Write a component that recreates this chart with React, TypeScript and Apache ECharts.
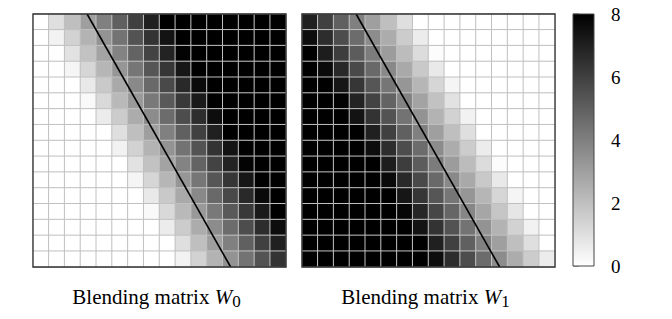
import React, { useEffect, useRef } from "react";
import * as echarts from "echarts";

const cols: string[] = Array.from({ length: 16 }, (_, i) => String(i));
const rows: string[] = Array.from({ length: 16 }, (_, i) => String(i));

const w0Rows: number[][] = [
  [0, 1, 2, 3, 4, 5, 6, 7, 8, 8, 8, 8, 8, 8, 8, 8],
  [0, 0.4, 1.4, 2.4, 3.4, 4.4, 5.4, 6.4, 7.4, 8, 8, 8, 8, 8, 8, 8],
  [0, 0, 0.9, 1.9, 2.9, 3.9, 4.9, 5.9, 6.9, 7.9, 8, 8, 8, 8, 8, 8],
  [0, 0, 0.3, 1.3, 2.3, 3.3, 4.3, 5.3, 6.3, 7.3, 8, 8, 8, 8, 8, 8],
  [0, 0, 0, 0.7, 1.7, 2.7, 3.7, 4.7, 5.7, 6.7, 7.7, 8, 8, 8, 8, 8],
  [0, 0, 0, 0.2, 1.2, 2.2, 3.2, 4.2, 5.2, 6.2, 7.2, 8, 8, 8, 8, 8],
  [0, 0, 0, 0, 0.6, 1.6, 2.6, 3.6, 4.6, 5.6, 6.6, 7.6, 8, 8, 8, 8],
  [0, 0, 0, 0, 0, 1.0, 2.0, 3.0, 4.0, 5.0, 6.0, 7.0, 8, 8, 8, 8],
  [0, 0, 0, 0, 0, 0.4, 1.4, 2.4, 3.4, 4.4, 5.4, 6.4, 7.4, 8, 8, 8],
  [0, 0, 0, 0, 0, 0, 0.9, 1.9, 2.9, 3.9, 4.9, 5.9, 6.9, 7.9, 8, 8],
  [0, 0, 0, 0, 0, 0, 0.3, 1.3, 2.3, 3.3, 4.3, 5.3, 6.3, 7.3, 8, 8],
  [0, 0, 0, 0, 0, 0, 0, 0.7, 1.7, 2.7, 3.7, 4.7, 5.7, 6.7, 7.7, 8],
  [0, 0, 0, 0, 0, 0, 0, 0.2, 1.2, 2.2, 3.2, 4.2, 5.2, 6.2, 7.2, 8],
  [0, 0, 0, 0, 0, 0, 0, 0, 0.6, 1.6, 2.6, 3.6, 4.6, 5.6, 6.6, 7.6],
  [0, 0, 0, 0, 0, 0, 0, 0, 0, 1.0, 2.0, 3.0, 4.0, 5.0, 6.0, 7.0],
  [0, 0, 0, 0, 0, 0, 0, 0, 0, 0.4, 1.4, 2.4, 3.4, 4.4, 5.4, 6.4],
];

const w1Rows: number[][] = [
  [7, 6, 5, 4, 3, 2, 1, 0, 0, 0, 0, 0, 0, 0, 0, 0],
  [7.6, 6.6, 5.6, 4.6, 3.6, 2.6, 1.6, 0.6, 0, 0, 0, 0, 0, 0, 0, 0],
  [8, 7.1, 6.1, 5.1, 4.1, 3.1, 2.1, 1.1, 0.1, 0, 0, 0, 0, 0, 0, 0],
  [8, 7.7, 6.7, 5.7, 4.7, 3.7, 2.7, 1.7, 0.7, 0, 0, 0, 0, 0, 0, 0],
  [8, 8, 7.3, 6.3, 5.3, 4.3, 3.3, 2.3, 1.3, 0.3, 0, 0, 0, 0, 0, 0],
  [8, 8, 7.9, 6.9, 5.9, 4.9, 3.9, 2.9, 1.9, 0.9, 0, 0, 0, 0, 0, 0],
  [8, 8, 8, 7.4, 6.4, 5.4, 4.4, 3.4, 2.4, 1.4, 0.4, 0, 0, 0, 0, 0],
  [8, 8, 8, 8, 7.0, 6.0, 5.0, 4.0, 3.0, 2.0, 1.0, 0, 0, 0, 0, 0],
  [8, 8, 8, 8, 7.6, 6.6, 5.6, 4.6, 3.6, 2.6, 1.6, 0.6, 0, 0, 0, 0],
  [8, 8, 8, 8, 8, 7.1, 6.1, 5.1, 4.1, 3.1, 2.1, 1.1, 0.1, 0, 0, 0],
  [8, 8, 8, 8, 8, 7.7, 6.7, 5.7, 4.7, 3.7, 2.7, 1.7, 0.7, 0, 0, 0],
  [8, 8, 8, 8, 8, 8, 7.3, 6.3, 5.3, 4.3, 3.3, 2.3, 1.3, 0.3, 0, 0],
  [8, 8, 8, 8, 8, 8, 7.8, 6.8, 5.8, 4.8, 3.8, 2.8, 1.8, 0.8, 0, 0],
  [8, 8, 8, 8, 8, 8, 8, 7.4, 6.4, 5.4, 4.4, 3.4, 2.4, 1.4, 0.4, 0],
  [8, 8, 8, 8, 8, 8, 8, 8, 7.0, 6.0, 5.0, 4.0, 3.0, 2.0, 1.0, 0],
  [8, 8, 8, 8, 8, 8, 8, 8, 7.6, 6.6, 5.6, 4.6, 3.6, 2.6, 1.6, 0.6],
];

// boundary line endpoints in cell units: [col, rowFromBottom]
const boundaryLine: number[][] = [
  [3.42, 16],
  [12.5, 0],
];

const colorbarTicks = { min: 0, max: 8, interval: 2 };
const captions: string[] = ["0", "1"];

const toCells = (m: number[][]) => {
  const out: number[][] = [];
  m.forEach((row, r) => row.forEach((v, c) => out.push([c, r, v])));
  return out;
};

const FONT = "'Liberation Serif', 'DejaVu Serif', serif";

export default function App() {
  const ref = useRef<HTMLDivElement>(null);
  useEffect(() => {
    document.body.style.margin = "0";
    if (!ref.current) return;
    const chart = echarts.init(ref.current, undefined, { renderer: "svg" });

    const P0 = { left: 33, top: 14, width: 253, height: 253 };
    const P1 = { left: 302, top: 14, width: 253, height: 253 };
    const CB = { left: 573, top: 14, width: 21, height: 252 };

    const cellStyle = { borderColor: "#c0c0c0", borderWidth: 1 };

    const caption = (cx: number, sub: string) => ({
      type: "text",
      x: cx,
      y: 297,
      style: {
        text: `{a|Blending matrix }{b|W}{c|${sub}}`,
        align: "center",
        verticalAlign: "middle",
        rich: {
          a: { fontFamily: FONT, fontSize: 21, fill: "#000" },
          b: { fontFamily: FONT, fontSize: 21, fontStyle: "italic", fill: "#000" },
          c: { fontFamily: FONT, fontSize: 17, fill: "#000", padding: [8, 0, 0, 0] },
        },
      },
    });

    chart.setOption({
      animation: false,
      grid: [
        { ...P0, show: false },
        { ...P1, show: false },
        { ...CB, show: false },
      ],
      xAxis: [
        { type: "category", gridIndex: 0, data: cols, show: false },
        { type: "category", gridIndex: 1, data: cols, show: false },
        { type: "value", gridIndex: 0, min: 0, max: 16, show: false },
        { type: "value", gridIndex: 1, min: 0, max: 16, show: false },
        { type: "value", gridIndex: 2, min: 0, max: 1, show: false },
      ],
      yAxis: [
        { type: "category", gridIndex: 0, data: rows, inverse: true, show: false },
        { type: "category", gridIndex: 1, data: rows, inverse: true, show: false },
        { type: "value", gridIndex: 0, min: 0, max: 16, show: false },
        { type: "value", gridIndex: 1, min: 0, max: 16, show: false },
        {
          type: "value",
          gridIndex: 2,
          min: colorbarTicks.min,
          max: colorbarTicks.max,
          interval: colorbarTicks.interval,
          position: "right",
          offset: 4,
          axisLine: { show: false },
          splitLine: { show: false },
          axisTick: { show: true, length: 6, lineStyle: { color: "#999", width: 1.5 } },
          axisLabel: { margin: 13, fontFamily: FONT, fontSize: 19, color: "#000" },
        },
      ],
      visualMap: {
        type: "continuous",
        show: false,
        min: 0,
        max: 8,
        dimension: 2,
        seriesIndex: [0, 1],
        inRange: { color: ["#ffffff", "#000000"] },
      },
      series: [
        {
          type: "heatmap",
          xAxisIndex: 0,
          yAxisIndex: 0,
          data: toCells(w0Rows),
          itemStyle: cellStyle,
          emphasis: { disabled: true },
        },
        {
          type: "heatmap",
          xAxisIndex: 1,
          yAxisIndex: 1,
          data: toCells(w1Rows),
          itemStyle: cellStyle,
          emphasis: { disabled: true },
        },
        {
          type: "line",
          xAxisIndex: 2,
          yAxisIndex: 2,
          data: boundaryLine,
          symbol: "none",
          z: 5,
          lineStyle: { color: "#000", width: 1.6 },
        },
        {
          type: "line",
          xAxisIndex: 3,
          yAxisIndex: 3,
          data: boundaryLine,
          symbol: "none",
          z: 5,
          lineStyle: { color: "#000", width: 1.6 },
        },
      ],
      graphic: [
        {
          type: "rect",
          z: 100,
          shape: { x: P0.left, y: P0.top, width: P0.width, height: P0.height },
          style: { fill: "none", stroke: "#333", lineWidth: 1.3 },
        },
        {
          type: "rect",
          z: 100,
          shape: { x: P1.left, y: P1.top, width: P1.width, height: P1.height },
          style: { fill: "none", stroke: "#333", lineWidth: 1.3 },
        },
        {
          type: "rect",
          z: 100,
          shape: { x: CB.left, y: CB.top, width: CB.width, height: CB.height },
          style: {
            fill: new echarts.graphic.LinearGradient(0, 0, 0, 1, [
              { offset: 0, color: "#000000" },
              { offset: 1, color: "#ffffff" },
            ]),
            stroke: "#444",
            lineWidth: 1,
          },
        },
        caption(P0.left + P0.width / 2 - 3, captions[0]),
        caption(P1.left + P1.width / 2 - 3, captions[1]),
      ],
    });
    return () => chart.dispose();
  }, []);
  return <div ref={ref} style={{ width: 672, height: 319 }} />;
}
